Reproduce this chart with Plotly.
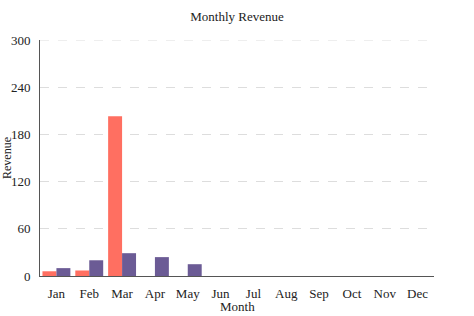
import plotly.graph_objects as go

months = ["Jan", "Feb", "Mar", "Apr", "May", "Jun", "Jul", "Aug", "Sep", "Oct", "Nov", "Dec"]
series_a = [6, 7, 203, 0, 0, 0, 0, 0, 0, 0, 0, 0]
series_b = [10, 20, 29, 24, 15, 0, 0, 0, 0, 0, 0, 0]
y_ticks = [0, 60, 120, 180, 240, 300]

font = "Liberation Serif, Times New Roman, serif"

fig = go.Figure()
fig.add_trace(go.Bar(x=months, y=series_a, marker=dict(color="#FF6F61", line=dict(width=0)), name="A"))
fig.add_trace(go.Bar(x=months, y=series_b, marker=dict(color="#6B5B95", line=dict(width=0)), name="B"))

fig.update_layout(
    width=474, height=316,
    margin=dict(l=40, r=40, t=40, b=40),
    paper_bgcolor="white", plot_bgcolor="white",
    showlegend=False,
    barmode="group", bargap=0.15, bargroupgap=0,
    font=dict(family=font, size=13, color="#222"),
    title=dict(text="Monthly Revenue", x=0.5, xanchor="center", y=1 - 16/316, yanchor="middle",
               font=dict(family=font, size=13, color="#222")),
    xaxis=dict(showline=True, linecolor="#555", linewidth=1, showgrid=False, ticks="",
               ticklabelstandoff=5, tickfont=dict(size=13), fixedrange=True),
    yaxis=dict(range=[0, 300], tickvals=y_ticks, showline=True, linecolor="#555", linewidth=1,
               showgrid=True, gridcolor="#dddddd", griddash="dash", gridwidth=1,
               zeroline=False, ticks="", ticklabelstandoff=6, tickfont=dict(size=13)),
    shapes=[dict(type="line", xref="paper", yref="y", x0=0, x1=1, y0=y_ticks[-1], y1=y_ticks[-1],
                 line=dict(color="#dddddd", width=1, dash="dash"), layer="below")],
    annotations=[
        dict(text="Month", xref="paper", yref="paper", x=0.5, y=0, yshift=-30, showarrow=False,
             yanchor="middle", font=dict(family=font, size=13, color="#222")),
        dict(text="Revenue", xref="paper", yref="paper", x=0, xshift=-33, y=0.5, showarrow=False,
             textangle=-90, xanchor="center", yanchor="middle", font=dict(family=font, size=12, color="#222")),
    ],
)

fig.write_html("out.html")
